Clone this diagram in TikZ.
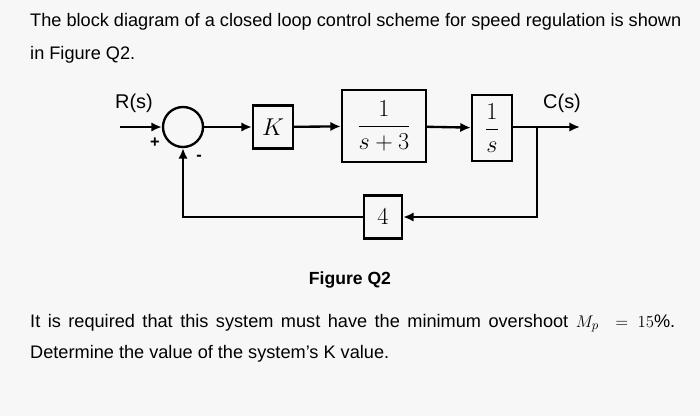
\documentclass[tikz,border=0pt]{standalone}
\usepackage{amsmath}
\usepackage{fontspec}
\setmainfont{Liberation Sans}
\usetikzlibrary{arrows.meta}
\begin{document}
\begin{tikzpicture}[x=0.03cm,y=-0.03cm,
  blk/.style={draw,line width=2pt,inner sep=0pt},
  sig/.style={line width=2pt,-{Latex[length=9pt,width=8pt]}},
  txt/.style={font=\fontsize{15.5}{18}\selectfont,anchor=west,inner sep=0pt},
  mth/.style={font=\fontsize{21}{24}\selectfont}]
\useasboundingbox[fill=gray!6] (0,0) rectangle (700,416);
\node[txt] (t1) at (30,22) {The block diagram of a closed loop control scheme for speed regulation is shown};
\node[txt] (t2) at (30,55) {in Figure Q2.};
\node[draw,circle,line width=2pt,minimum size=0.03cm*40] (sum) at (183,127) {};
\node[blk,minimum width=0.03cm*40,minimum height=0.03cm*43,mth] (k) at (273,127) {$K$};
\node[blk,minimum width=0.03cm*84,minimum height=0.03cm*72,mth] (g1) at (384,126) {$\dfrac{1}{s+3}$};
\node[blk,minimum width=0.03cm*40,minimum height=0.03cm*66,mth] (g2) at (492,128) {$\dfrac{1}{s}$};
\node[blk,minimum width=0.03cm*38,minimum height=0.03cm*43,mth] (h) at (383,217) {$4$};
\coordinate (in) at (120,127);
\coordinate (br) at (537,127);
\coordinate (out) at (580,127);
\draw[sig] (in) -- (sum);
\draw[sig] (sum) -- (k);
\draw[sig] (k) -- (g1);
\draw[sig] (g1) -- (g2);
\draw[sig] (g2.east|-br) -- (out);
\draw[sig] (br) |- (h);
\draw[sig] (h) -| (sum);
\node[txt,font=\fontsize{17}{19}\selectfont] (rs) at (115,103) {R(s)};
\node[txt,font=\fontsize{17}{19}\selectfont] (cs) at (543,103) {C(s)};
\node[font=\bfseries\fontsize{14}{16}\selectfont] (pl) at (155,143) {+};
\node[font=\bfseries\fontsize{14}{16}\selectfont] (mi) at (199,158) {-};
\node[font=\bfseries\fontsize{15}{17}\selectfont] (fig) at (350,280) {Figure Q2};
\node[txt] (t3) at (30,323) {\makebox[19.35cm][s]{It is required that this system must have the minimum overshoot $M_p\ =15\%$.}};
\node[txt] (t4) at (30,354) {Determine the value of the system's K value.};
\end{tikzpicture}
\end{document}
